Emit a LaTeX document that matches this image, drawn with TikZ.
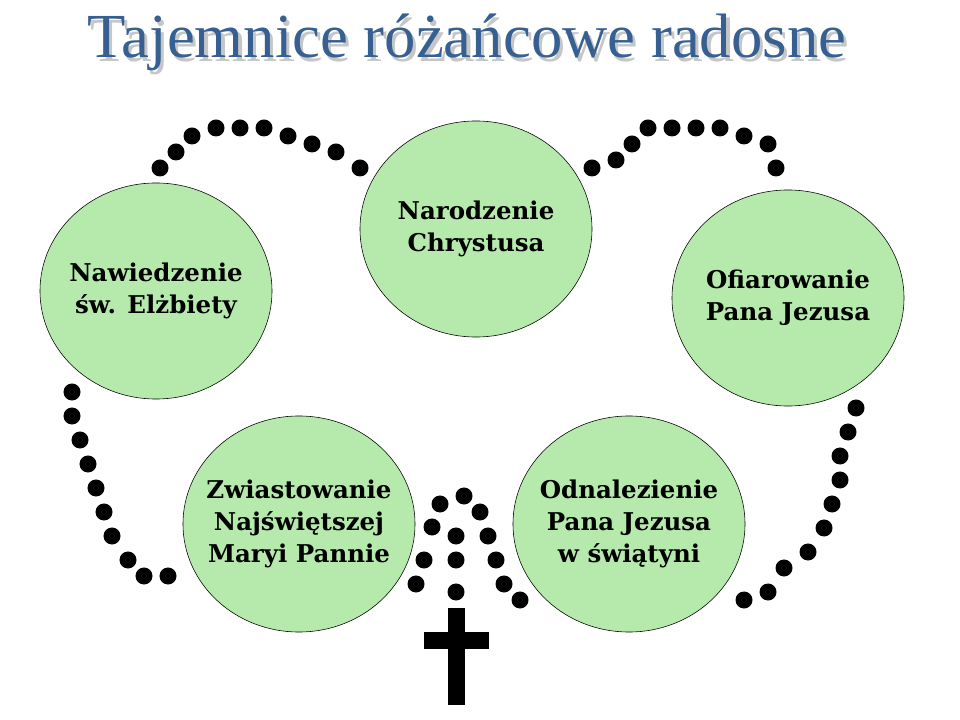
\documentclass[tikz,border=0pt]{standalone}
\usepackage{fontspec}
\usepackage{tikz}
\usetikzlibrary{shapes.geometric,positioning}
\newfontfamily\titlefont{Liberation Serif}
\newfontfamily\boxfont{DejaVu Serif}
\definecolor{titleblue}{RGB}{54,96,146}
\definecolor{mintgreen}{RGB}{182,234,172}
\newcommand{\shadowtext}[1]{\makebox[0pt][l]{\hspace{2.2pt}\raisebox{-2.2pt}{\textcolor{gray!45}{#1}}}\textcolor{titleblue}{#1}}

\begin{document}
\begin{tikzpicture} [x=0.025cm,y=-0.025cm,{mystery/.style={ellipse,draw=black,thin,fill=mintgreen,minimum width=5.8cm,minimum height=5.4cm,inner xsep=-12pt,inner ysep=0pt,align=center,font=\boxfont\bfseries\fontsize{17.4}{23}\selectfont}},{bead/.style={circle,fill=black,minimum size=0.425cm,inner sep=0pt}},{crossbar/.style={fill=black}}]
	\useasboundingbox (0,0) rectangle (960,720);
	%%title with shadow
	\node [anchor=base,font=\titlefont\fontsize{44.6}{50}\selectfont] (title) at (467,58) {\shadowtext{Tajemnice różańcowe radosne}};
	%%mysteries
	\node [mystery] (narodzenie) at (476,229) {Narodzenie\\Chrystusa};
	\node [mystery] (nawiedzenie) at (156,291) {Nawiedzenie\\św. Elżbiety};
	\node [mystery] (ofiarowanie) at (788,298) {Ofiarowanie\\Pana Jezusa};
	\node [mystery] (zwiastowanie) at (299,524) {Zwiastowanie\\Najświętszej\\Maryi Pannie};
	\node [mystery] (odnalezienie) at (629,524) {Odnalezienie\\Pana Jezusa\\w świątyni};
	%%beads
	\foreach \x/\y [count=\i] in {160/168,176/152,192/136,216/128,240/128,264/128,288/136,312/144,336/152,360/168,
		592/168,616/160,632/144,648/128,672/128,696/128,720/128,744/136,768/144,776/168,
		72/392,72/416,80/440,88/464,96/488,104/512,112/536,128/560,144/576,168/576,
		856/408,848/432,840/456,840/480,832/504,824/528,808/552,784/568,768/592,744/600,
		440/504,464/496,480/512,432/527,456/536,488/536,424/560,456/560,496/560,416/584,504/584,456/592,520/600}
		\node [bead] (b\i) at (\x,\y) {};
	%%cross
	\coordinate (crossA) at (448,608);
	\coordinate (crossB) at (465,705);
	\coordinate (crossC) at (424,632);
	\coordinate (crossD) at (489,649);
	\fill [crossbar] (crossA) rectangle (crossB);
	\fill [crossbar] (crossC) rectangle (crossD);
\end{tikzpicture}
\end{document}
